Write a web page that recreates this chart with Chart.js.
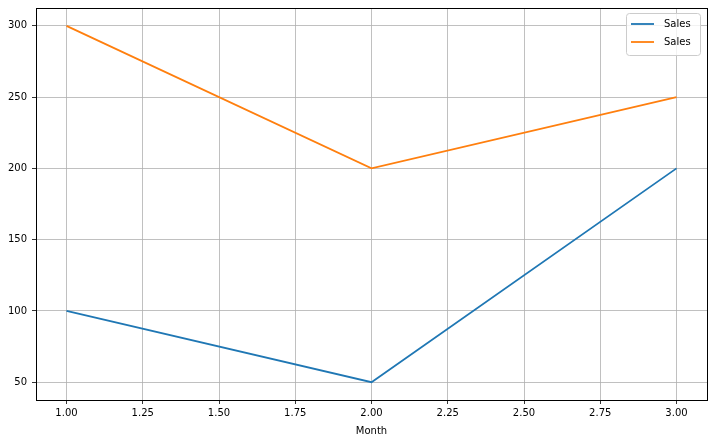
<!DOCTYPE html>
<html><head><meta charset="utf-8">
<script src="https://cdn.jsdelivr.net/npm/chart.js@4/dist/chart.umd.min.js"></script>
<style>html,body{margin:0;padding:0;background:#fff}#wrap{width:715px;height:443px}</style>
</head><body><div id="wrap"><canvas id="c" width="715" height="443"></canvas></div>
<script>
const months = [1, 2, 3];
const salesA = [100, 50, 200];
const salesB = [300, 200, 250];
const seriesLabels = ['Sales', 'Sales'];
const xTicks = [1.00, 1.25, 1.50, 1.75, 2.00, 2.25, 2.50, 2.75, 3.00];
const yTicks = [50, 100, 150, 200, 250, 300];
const xTitle = 'Month';

const FONT = 'DejaVu Sans';

const frame = {
  id: 'frame',
  afterDraw(chart) {
    const {ctx, chartArea: a} = chart;
    ctx.save();
    ctx.strokeStyle = '#000';
    ctx.lineWidth = 1;
    ctx.strokeRect(Math.round(a.left) + 0.5, Math.round(a.top) + 0.5, Math.round(a.right - a.left), Math.round(a.bottom - a.top));
    // legend
    const x0 = a.right - 81, y0 = a.top + 5, w = 74, h = 42;
    ctx.fillStyle = 'rgba(255,255,255,0.8)';
    ctx.strokeStyle = '#cccccc';
    ctx.lineWidth = 1;
    ctx.beginPath();
    ctx.roundRect(x0 + 0.5, y0 + 0.5, w, h, 3);
    ctx.fill(); ctx.stroke();
    ctx.font = '10px "' + FONT + '"';
    ctx.textBaseline = 'middle';
    chart.data.datasets.forEach((ds, i) => {
      const yy = y0 + 11 + i * 18;
      ctx.strokeStyle = ds.borderColor;
      ctx.lineWidth = 1.8;
      ctx.beginPath(); ctx.moveTo(x0 + 5, yy); ctx.lineTo(x0 + 28, yy); ctx.stroke();
      ctx.fillStyle = '#000';
      ctx.fillText(ds.label, x0 + 38, yy);
    });
    ctx.restore();
  }
};

new Chart(document.getElementById('c'), {
  type: 'line',
  data: {
    datasets: [
      {label: seriesLabels[0], data: months.map((m, i) => ({x: m, y: salesA[i]})), borderColor: '#1f77b4', borderWidth: 1.8, pointRadius: 0, tension: 0},
      {label: seriesLabels[1], data: months.map((m, i) => ({x: m, y: salesB[i]})), borderColor: '#ff7f0e', borderWidth: 1.8, pointRadius: 0, tension: 0}
    ]
  },
  options: {
    responsive: false,
    animation: false,
    layout: {padding: {left: 0, right: 8, top: 8, bottom: 6}},
    plugins: {legend: {display: false}, tooltip: {enabled: false}},
    scales: {
      x: {
        type: 'linear', min: 0.9, max: 3.1,
        afterBuildTicks: s => { s.ticks = xTicks.map(v => ({value: v})); },
        afterFit: s => { s.height = 37; s.paddingLeft = 0; s.paddingRight = 0; },
        grid: {color: '#b0b0b0', lineWidth: 0.8, tickColor: '#000', tickLength: 4, drawTicks: true},
        border: {display: false},
        ticks: {color: '#000', padding: 3, maxRotation: 0, font: {family: FONT, size: 10}, callback: v => Number(v).toFixed(2)},
        title: {display: true, text: xTitle, color: '#000', font: {family: FONT, size: 10}, padding: {top: 2, bottom: 0}}
      },
      y: {
        type: 'linear', min: 37.5, max: 312.5,
        afterBuildTicks: s => { s.ticks = yTicks.map(v => ({value: v})); },
        afterFit: s => { s.width = 36; s.paddingTop = 0; s.paddingBottom = 0; },
        grid: {color: '#b0b0b0', lineWidth: 0.8, tickColor: '#000', tickLength: 4, drawTicks: true},
        border: {display: false},
        ticks: {color: '#000', padding: 5, font: {family: FONT, size: 10}, callback: v => String(v)}
      }
    }
  },
  plugins: [frame]
});
</script></body></html>
